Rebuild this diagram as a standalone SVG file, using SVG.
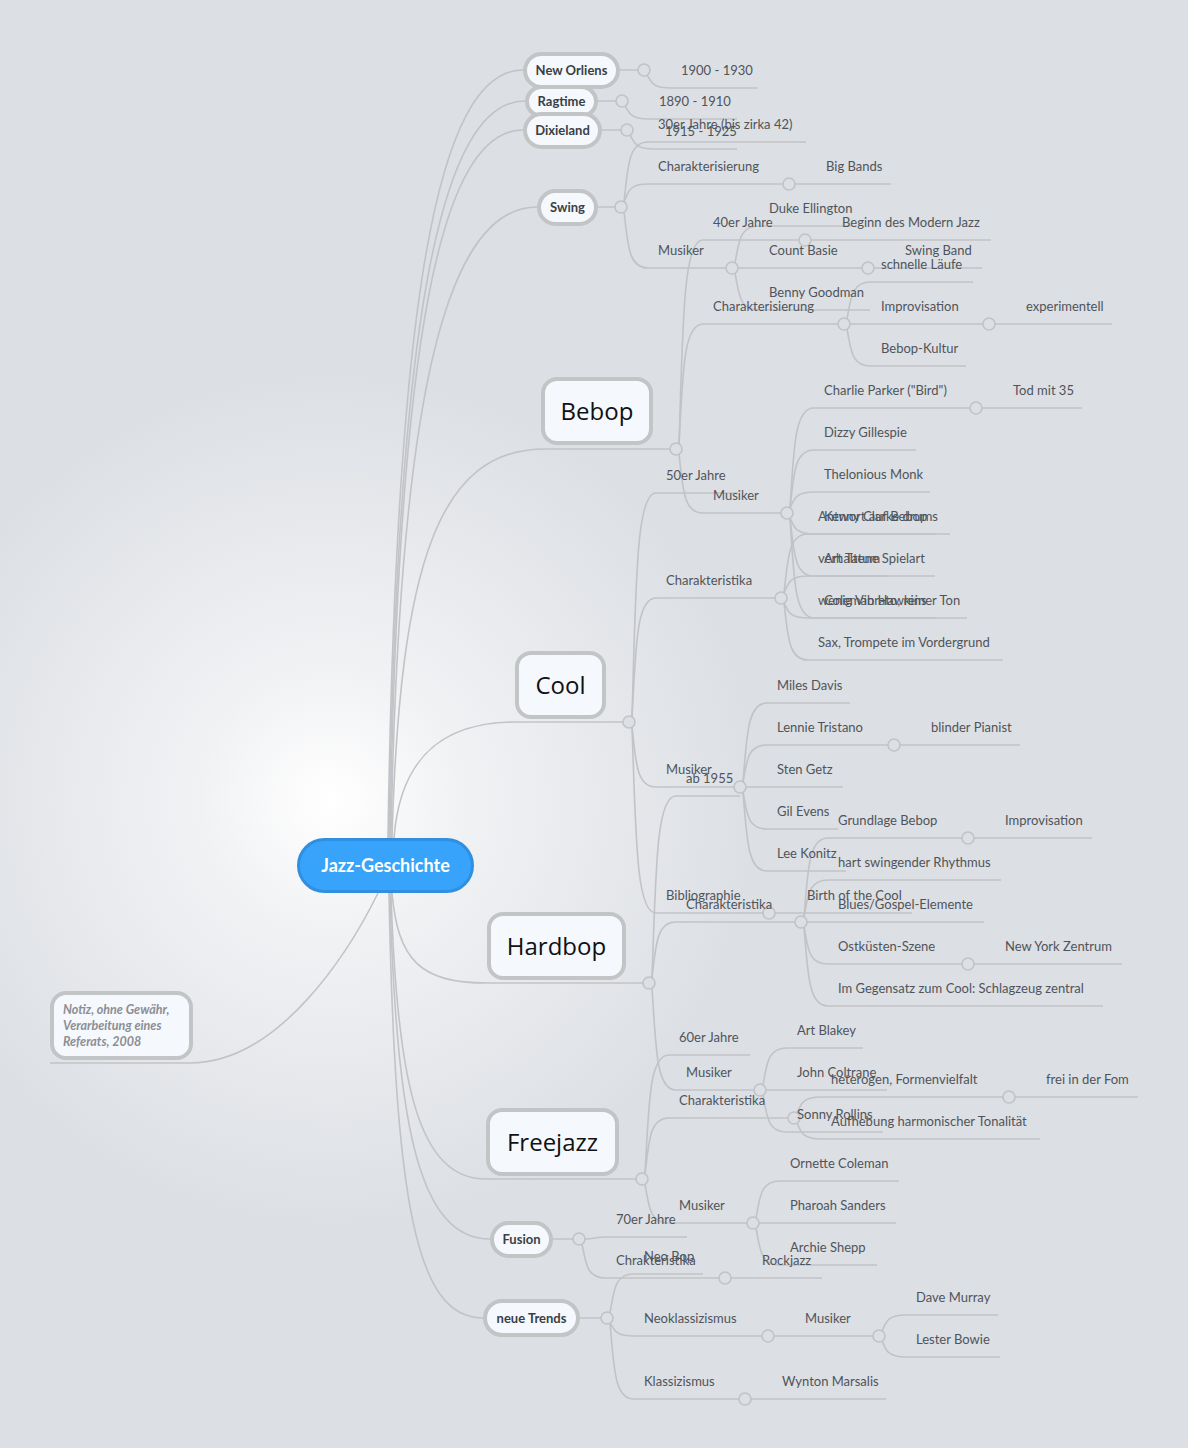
<svg xmlns="http://www.w3.org/2000/svg" width="1188" height="1448" viewBox="0 0 1188 1448">
<defs>
<radialGradient id="glow" cx="330" cy="800" r="430" gradientUnits="userSpaceOnUse">
<stop offset="0" stop-color="#ffffff"/>
<stop offset="0.3" stop-color="#f1f2f4"/>
<stop offset="1" stop-color="#dcdfe4"/>
</radialGradient>
<style>
.ln{fill:none;stroke:#c2c3c6;stroke-width:1.6}
.dot{fill:#dcdfe3;stroke:#c2c3c6;stroke-width:1.6}
.t{font-family:Lato,"Liberation Sans",sans-serif;font-size:13px;fill:#4f545a}
.n1{fill:#f5f8fd;stroke:#c3c4c6;stroke-width:4}
.s{font-family:Lato,"Liberation Sans",sans-serif;font-size:13px;font-weight:bold;fill:#3a3f45;text-anchor:middle}
.b{font-family:"Open Sans","Liberation Sans",sans-serif;font-size:24px;fill:#111111;text-anchor:middle}
</style>
</defs>
<rect width="1188" height="1448" fill="#dcdfe4"/>
<rect width="1188" height="1448" fill="url(#glow)"/>

<g id="connectors">
<!-- root to level 1 -->
<path class="ln" d="M388 838 C396 300 437 70 523 70"/>
<path class="ln" d="M389 838 C397 320 440 101 525 101"/>
<path class="ln" d="M390 838 C398 340 440 130 523 130"/>
<path class="ln" d="M391 838 C399 400 445 207 537 207"/>
<path class="ln" d="M392 838 C400 560 440 449 545 449 H670"/>
<path class="ln" d="M394 838 C400 760 440 722 515 722 H623"/>
<path class="ln" d="M392 893 C398 960 420 983 487 983 H643"/>
<path class="ln" d="M391 893 C397 1090 420 1179 486 1179 H636"/>
<path class="ln" d="M390 893 C396 1130 420 1239 490 1239"/>
<path class="ln" d="M389 893 C395 1200 415 1318 483 1318"/>
<path class="ln" d="M378 893 C350 950 280 1063 190 1063 H50"/>
<!-- node stubs -->
<path class="ln" d="M620 70 H638 M598 101 H616 M602 130 H621 M598 207 H615 M553 1239 H573 M580 1318 H601"/>
<!-- New Orliens / Ragtime / Dixieland -->
<path class="ln" d="M647 75 C651 80.8 651 88 671 88 H758"/>
<path class="ln" d="M625 106 C629 111.8 629 119 649 119 H737"/>
<path class="ln" d="M630 135 C634 141.4 634 149 654 149 H737"/>
<!-- Swing -->
<path class="ln" d="M624 202 C628 168 628 142 648 142 H806"/>
<path class="ln" d="M624 202 C628 193.2 628 184 648 184 H891"/>
<path class="ln" d="M624 212 C628 243.6 628 268 648 268 H732"/>
<path class="ln" d="M735 263 C739 242.8 739 226 759 226 H853"/>
<path class="ln" d="M738 268 H982"/>
<path class="ln" d="M735 273 C739 293.2 739 310 759 310 H870"/>
<!-- Bebop -->
<path class="ln" d="M679 444 C683 323.6 683 240 703 240 H991"/>
<path class="ln" d="M679 444 C683 374 683 324 703 324 H844"/>
<path class="ln" d="M679 454 C683 487.4 683 513 703 513 H787"/>
<path class="ln" d="M847 319 C851 298.8 851 282 871 282 H973"/>
<path class="ln" d="M850 324 H1112"/>
<path class="ln" d="M847 329 C851 349.2 851 366 871 366 H966"/>
<path class="ln" d="M790 508 C794 450 794 408 814 408 H1082"/>
<path class="ln" d="M790 508 C794 475.2 794 450 814 450 H916"/>
<path class="ln" d="M790 508 C794 500.4 794 492 814 492 H930"/>
<path class="ln" d="M790 518 C794 525.6 794 534 814 534 H950"/>
<path class="ln" d="M790 518 C794 550.8 794 576 814 576 H888"/>
<path class="ln" d="M790 518 C794 576 794 618 814 618 H937"/>
<!-- Cool -->
<path class="ln" d="M632 717 C636 584.6 636 493 656 493 H738"/>
<path class="ln" d="M632 717 C636 647.6 636 598 656 598 H781"/>
<path class="ln" d="M632 727 C636 761 636 787 656 787 H740"/>
<path class="ln" d="M632 727 C636 836.6 636 913 656 913 H912"/>
<path class="ln" d="M784 593 C788 559.6 788 534 808 534 H937"/>
<path class="ln" d="M784 593 C788 584.8 788 576 808 576 H935"/>
<path class="ln" d="M784 603 C788 610 788 618 808 618 H967"/>
<path class="ln" d="M784 603 C788 635.2 788 660 808 660 H1003"/>
<path class="ln" d="M743 782 C747 736.6 747 703 767 703 H850"/>
<path class="ln" d="M743 782 C747 761.8 747 745 767 745 H1020"/>
<path class="ln" d="M746 787 H843"/>
<path class="ln" d="M743 792 C747 812.2 747 829 767 829 H838"/>
<path class="ln" d="M743 792 C747 837.4 747 871 767 871 H846"/>
<!-- Hardbop -->
<path class="ln" d="M652 978 C656 870.8 656 796 676 796 H740"/>
<path class="ln" d="M652 978 C656 946.4 656 922 676 922 H801"/>
<path class="ln" d="M652 988 C656 1047.2 656 1090 676 1090 H760"/>
<path class="ln" d="M804 917 C808 871.6 808 838 828 838 H1092"/>
<path class="ln" d="M804 917 C808 896.8 808 880 828 880 H1001"/>
<path class="ln" d="M807 922 H984"/>
<path class="ln" d="M804 927 C808 947.2 808 964 828 964 H1122"/>
<path class="ln" d="M804 927 C808 972.4 808 1006 828 1006 H1103"/>
<path class="ln" d="M763 1085 C767 1064.8 767 1048 787 1048 H863"/>
<path class="ln" d="M766 1090 H887"/>
<path class="ln" d="M763 1095 C767 1115.2 767 1132 787 1132 H883"/>
<!-- Freejazz -->
<path class="ln" d="M645 1174 C649 1104.6 649 1055 669 1055 H750"/>
<path class="ln" d="M645 1174 C649 1142.4 649 1118 669 1118 H794"/>
<path class="ln" d="M645 1184 C649 1205.4 649 1223 669 1223 H753"/>
<path class="ln" d="M797 1113 C801 1105.4 801 1097 821 1097 H1138"/>
<path class="ln" d="M797 1123 C801 1130.6 801 1139 821 1139 H1040"/>
<path class="ln" d="M756 1218 C760 1197.8 760 1181 780 1181 H899"/>
<path class="ln" d="M759 1223 H896"/>
<path class="ln" d="M756 1228 C760 1248.2 760 1265 780 1265 H877"/>
<!-- Fusion -->
<path class="ln" d="M585 1239 C595 1239 595 1237 606 1237 H687"/>
<path class="ln" d="M582 1244 C586 1262.4 586 1278 606 1278 H822"/>
<!-- neue Trends -->
<path class="ln" d="M610 1313 C614 1291.6 614 1274 634 1274 H703"/>
<path class="ln" d="M610 1323 C614 1328.8 614 1336 634 1336 H879"/>
<path class="ln" d="M610 1323 C614 1366.6 614 1399 634 1399 H886"/>
<path class="ln" d="M882 1331 C886 1323.4 886 1315 906 1315 H998"/>
<path class="ln" d="M882 1341 C886 1348.6 886 1357 906 1357 H1000"/>
<!-- junction circles -->
<g class="dot">
<circle cx="644" cy="70" r="6"/><circle cx="622" cy="101" r="6"/><circle cx="627" cy="130" r="6"/>
<circle cx="621" cy="207" r="6"/><circle cx="789" cy="184" r="6"/><circle cx="732" cy="268" r="6"/>
<circle cx="868" cy="268" r="6"/><circle cx="676" cy="449" r="6"/><circle cx="805" cy="240" r="6"/>
<circle cx="844" cy="324" r="6"/><circle cx="989" cy="324" r="6"/><circle cx="787" cy="513" r="6"/>
<circle cx="976" cy="408" r="6"/><circle cx="629" cy="722" r="6"/><circle cx="781" cy="598" r="6"/>
<circle cx="740" cy="787" r="6"/><circle cx="894" cy="745" r="6"/><circle cx="769" cy="913" r="6"/>
<circle cx="649" cy="983" r="6"/><circle cx="801" cy="922" r="6"/><circle cx="968" cy="838" r="6"/>
<circle cx="968" cy="964" r="6"/><circle cx="760" cy="1090" r="6"/><circle cx="642" cy="1179" r="6"/>
<circle cx="794" cy="1118" r="6"/><circle cx="1009" cy="1097" r="6"/><circle cx="753" cy="1223" r="6"/>
<circle cx="579" cy="1239" r="6"/><circle cx="725" cy="1278" r="6"/><circle cx="607" cy="1318" r="6"/>
<circle cx="768" cy="1336" r="6"/><circle cx="879" cy="1336" r="6"/><circle cx="745" cy="1399" r="6"/>
</g>
</g>

<!-- root -->
<g id="root">
<rect x="298.5" y="839.5" width="174" height="52" rx="26" fill="#37a3fa" stroke="#2f8fe0" stroke-width="3"/>
<text x="385.5" y="872" text-anchor="middle" font-family="Lato,'Liberation Sans',sans-serif" font-size="18" font-weight="bold" fill="#ffffff">Jazz-Geschichte</text>
</g>

<!-- level 1 nodes -->
<g id="ragtime"><rect class="n1" x="527" y="87" width="69" height="29" rx="14.5"/><text class="s" x="561.5" y="105.5">Ragtime</text></g>
<g id="new-orliens"><rect class="n1" x="525" y="54" width="93" height="33" rx="16.5"/><text class="s" x="571.5" y="74.5">New Orliens</text></g>
<g id="dixieland"><rect class="n1" x="525" y="114" width="75" height="33" rx="16.5"/><text class="s" x="562.5" y="134.5">Dixieland</text></g>
<g id="swing"><rect class="n1" x="539" y="191" width="57" height="33" rx="16.5"/><text class="s" x="567.5" y="211.5">Swing</text></g>
<g id="bebop"><rect class="n1" x="543" y="379" width="108" height="64" rx="14"/><text class="b" x="597" y="419.5">Bebop</text></g>
<g id="cool"><rect class="n1" x="517" y="653" width="87" height="64" rx="14"/><text class="b" x="560.5" y="693.5">Cool</text></g>
<g id="hardbop"><rect class="n1" x="489" y="914" width="135" height="64" rx="14"/><text class="b" x="556.5" y="954.5">Hardbop</text></g>
<g id="freejazz"><rect class="n1" x="488" y="1110" width="129" height="64" rx="14"/><text class="b" x="552.5" y="1150.5">Freejazz</text></g>
<g id="fusion"><rect class="n1" x="492" y="1223" width="59" height="33" rx="16.5"/><text class="s" x="521.5" y="1243.5">Fusion</text></g>
<g id="neue-trends"><rect class="n1" x="485" y="1301" width="93" height="34" rx="17"/><text class="s" x="531.5" y="1322.5">neue Trends</text></g>
<g id="note"><rect class="n1" x="52" y="993" width="139" height="65" rx="14"/>
<text font-family="Lato,'Liberation Sans',sans-serif" font-size="12.5" font-style="italic" font-weight="bold" fill="#8b8e93"><tspan x="63" y="1014">Notiz, ohne Gewähr,</tspan><tspan x="63" y="1030">Verarbeitung eines</tspan><tspan x="63" y="1046">Referats, 2008</tspan></text></g>

<!-- child labels -->
<g id="c-1900"><text class="t" x="681" y="74.5">1900 - 1930</text></g>
<g id="c-1890"><text class="t" x="659" y="105.5">1890 - 1910</text></g>
<g id="c-1915"><text class="t" x="665" y="135.5">1915 - 1925</text></g>
<g id="c-30er"><text class="t" x="658" y="128.5">30er Jahre (bis zirka 42)</text></g>
<g id="c-swing-char"><text class="t" x="658" y="170.5">Charakterisierung</text></g>
<g id="c-bigbands"><text class="t" x="826" y="170.5">Big Bands</text></g>
<g id="c-swing-mus"><text class="t" x="658" y="254.5">Musiker</text></g>
<g id="c-duke"><text class="t" x="769" y="212.5">Duke Ellington</text></g>
<g id="c-basie"><text class="t" x="769" y="254.5">Count Basie</text></g>
<g id="c-swingband"><text class="t" x="905" y="254.5">Swing Band</text></g>
<g id="c-goodman"><text class="t" x="769" y="296.5">Benny Goodman</text></g>
<g id="c-40er"><text class="t" x="713" y="226.5">40er Jahre</text></g>
<g id="c-modern"><text class="t" x="842" y="226.5">Beginn des Modern Jazz</text></g>
<g id="c-bebop-char"><text class="t" x="713" y="310.5">Charakterisierung</text></g>
<g id="c-laeufe"><text class="t" x="881" y="268.5">schnelle Läufe</text></g>
<g id="c-impro1"><text class="t" x="881" y="310.5">Improvisation</text></g>
<g id="c-experimentell"><text class="t" x="1026" y="310.5">experimentell</text></g>
<g id="c-kultur"><text class="t" x="881" y="352.5">Bebop-Kultur</text></g>
<g id="c-bebop-mus"><text class="t" x="713" y="499.5">Musiker</text></g>
<g id="c-parker"><text class="t" x="824" y="394.5">Charlie Parker ("Bird")</text></g>
<g id="c-tod"><text class="t" x="1013" y="394.5">Tod mit 35</text></g>
<g id="c-gillespie"><text class="t" x="824" y="436.5">Dizzy Gillespie</text></g>
<g id="c-monk"><text class="t" x="824" y="478.5">Thelonious Monk</text></g>
<g id="c-clarke"><text class="t" x="824" y="520.5">Kenny Clarke drums</text></g>
<g id="c-tatum"><text class="t" x="824" y="562.5">Art Tatum</text></g>
<g id="c-hawkins"><text class="t" x="824" y="604.5">Coleman Hawkins</text></g>
<g id="c-50er"><text class="t" x="666" y="479.5">50er Jahre</text></g>
<g id="c-cool-char"><text class="t" x="666" y="584.5">Charakteristika</text></g>
<g id="c-antwort"><text class="t" x="818" y="520.5">Antwort auf Bebop</text></g>
<g id="c-verhalten"><text class="t" x="818" y="562.5">verhaltene Spielart</text></g>
<g id="c-vibrato"><text class="t" x="818" y="604.5">wenig Vibrato, reiner Ton</text></g>
<g id="c-sax"><text class="t" x="818" y="646.5">Sax, Trompete im Vordergrund</text></g>
<g id="c-cool-mus"><text class="t" x="666" y="773.5">Musiker</text></g>
<g id="c-davis"><text class="t" x="777" y="689.5">Miles Davis</text></g>
<g id="c-tristano"><text class="t" x="777" y="731.5">Lennie Tristano</text></g>
<g id="c-blind"><text class="t" x="931" y="731.5">blinder Pianist</text></g>
<g id="c-getz"><text class="t" x="777" y="773.5">Sten Getz</text></g>
<g id="c-evens"><text class="t" x="777" y="815.5">Gil Evens</text></g>
<g id="c-konitz"><text class="t" x="777" y="857.5">Lee Konitz</text></g>
<g id="c-biblio"><text class="t" x="666" y="899.5">Bibliographie</text></g>
<g id="c-birth"><text class="t" x="807" y="899.5">Birth of the Cool</text></g>
<g id="c-ab1955"><text class="t" x="686" y="782.5">ab 1955</text></g>
<g id="c-hard-char"><text class="t" x="686" y="908.5">Charakteristika</text></g>
<g id="c-grundlage"><text class="t" x="838" y="824.5">Grundlage Bebop</text></g>
<g id="c-impro2"><text class="t" x="1005" y="824.5">Improvisation</text></g>
<g id="c-hart"><text class="t" x="838" y="866.5">hart swingender Rhythmus</text></g>
<g id="c-blues"><text class="t" x="838" y="908.5">Blues/Gospel-Elemente</text></g>
<g id="c-ost"><text class="t" x="838" y="950.5">Ostküsten-Szene</text></g>
<g id="c-ny"><text class="t" x="1005" y="950.5">New York Zentrum</text></g>
<g id="c-gegensatz"><text class="t" x="838" y="992.5">Im Gegensatz zum Cool: Schlagzeug zentral</text></g>
<g id="c-hard-mus"><text class="t" x="686" y="1076.5">Musiker</text></g>
<g id="c-blakey"><text class="t" x="797" y="1034.5">Art Blakey</text></g>
<g id="c-coltrane"><text class="t" x="797" y="1076.5">John Coltrane</text></g>
<g id="c-rollins"><text class="t" x="797" y="1118.5">Sonny Rollins</text></g>
<g id="c-60er"><text class="t" x="679" y="1041.5">60er Jahre</text></g>
<g id="c-free-char"><text class="t" x="679" y="1104.5">Charakteristika</text></g>
<g id="c-heterogen"><text class="t" x="831" y="1083.5">heterogen, Formenvielfalt</text></g>
<g id="c-frei"><text class="t" x="1046" y="1083.5">frei in der Fom</text></g>
<g id="c-aufhebung"><text class="t" x="831" y="1125.5">Aufhebung harmonischer Tonalität</text></g>
<g id="c-free-mus"><text class="t" x="679" y="1209.5">Musiker</text></g>
<g id="c-ornette"><text class="t" x="790" y="1167.5">Ornette Coleman</text></g>
<g id="c-sanders"><text class="t" x="790" y="1209.5">Pharoah Sanders</text></g>
<g id="c-shepp"><text class="t" x="790" y="1251.5">Archie Shepp</text></g>
<g id="c-70er"><text class="t" x="616" y="1223.5">70er Jahre</text></g>
<g id="c-fus-char"><text class="t" x="616" y="1264.5">Chrakteristika</text></g>
<g id="c-rockjazz"><text class="t" x="762" y="1264.5">Rockjazz</text></g>
<g id="c-neobop"><text class="t" x="644" y="1260.5">Neo Bop</text></g>
<g id="c-neoklass"><text class="t" x="644" y="1322.5">Neoklassizismus</text></g>
<g id="c-nt-mus"><text class="t" x="805" y="1322.5">Musiker</text></g>
<g id="c-murray"><text class="t" x="916" y="1301.5">Dave Murray</text></g>
<g id="c-bowie"><text class="t" x="916" y="1343.5">Lester Bowie</text></g>
<g id="c-klass"><text class="t" x="644" y="1385.5">Klassizismus</text></g>
<g id="c-marsalis"><text class="t" x="782" y="1385.5">Wynton Marsalis</text></g>
</svg>
